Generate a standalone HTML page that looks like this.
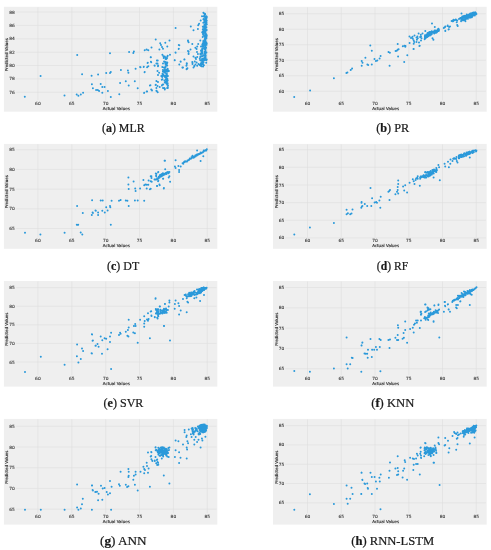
<!DOCTYPE html>
<html><head><meta charset="utf-8"><style>
html,body{margin:0;padding:0;background:#fff;}
body{width:491px;height:550px;overflow:hidden;}
svg{display:block;}
.tk text{font-family:"DejaVu Sans","Liberation Sans",sans-serif;font-size:4.4px;fill:#333;stroke:#333;stroke-width:0.1px;}
.al{font-family:"DejaVu Sans","Liberation Sans",sans-serif;font-size:4px;fill:#333;stroke:#333;stroke-width:0.16px;}
.cap{font-family:"Liberation Serif",serif;font-size:12.7px;fill:#1a1a1a;stroke:#1a1a1a;stroke-width:0.22px;}
</style></head><body>
<svg width="491" height="550" viewBox="0 0 491 550">
<rect width="491" height="550" fill="#fff"/>

<rect x="3.9" y="6.8" width="213.4" height="104.9" fill="#efefef"/>
<path d="M37.9 7.3V100.3M71.8 7.3V100.3M105.7 7.3V100.3M139.5 7.3V100.3M173.4 7.3V100.3M207.3 7.3V100.3M16.2 92.3H216.5M16.2 78.9H216.5M16.2 65.5H216.5M16.2 52.2H216.5M16.2 38.8H216.5M16.2 25.4H216.5M16.2 12.0H216.5" stroke="#dddddd" stroke-width="0.6" fill="none"/>
<g class="tk"><text x="37.9" y="105.3" text-anchor="middle">60</text><text x="71.8" y="105.3" text-anchor="middle">65</text><text x="105.7" y="105.3" text-anchor="middle">70</text><text x="139.5" y="105.3" text-anchor="middle">75</text><text x="173.4" y="105.3" text-anchor="middle">80</text><text x="207.3" y="105.3" text-anchor="middle">85</text><text x="14.8" y="93.8" text-anchor="end">76</text><text x="14.8" y="80.4" text-anchor="end">78</text><text x="14.8" y="67.0" text-anchor="end">80</text><text x="14.8" y="53.7" text-anchor="end">82</text><text x="14.8" y="40.3" text-anchor="end">84</text><text x="14.8" y="26.9" text-anchor="end">86</text><text x="14.8" y="13.5" text-anchor="end">88</text></g>
<text class="al" x="116.3" y="109.7" text-anchor="middle">Actual Values</text>
<text class="al" transform="translate(8.0 54.7) rotate(-90)" text-anchor="middle">Predicted Values</text>
<polygon points="205.0,16.0 206.4,17.5 206.4,58.0 204.6,60.0 204.1,30.0" fill="#2a99da"/>
<path d="M24.8 96.8h0M40.6 75.9h0M64.5 95.5h0M76.7 94.4h0M78.4 95.7h0M80.8 94.4h0M83.1 92.7h0M77.2 54.9h0M82.1 74.3h0M91.6 75.7h0M98.1 74.4h0M106.2 73.1h0M110.0 73.1h0M110.8 72.0h0M120.9 69.9h0M127.9 70.4h0M128.4 72.8h0M135.6 68.7h0M140.1 67.1h0M143.7 67.1h0M144.7 72.0h0M91.9 84.2h0M100.7 83.9h0M102.3 87.1h0M104.6 87.1h0M92.9 88.3h0M96.1 89.9h0M97.8 89.9h0M99.1 91.1h0M102.3 92.7h0M107.9 91.1h0M110.8 96.9h0M119.3 94.3h0M120.1 82.9h0M125.8 81.3h0M128.7 85.5h0M134.8 81.3h0M137.7 88.3h0M144.2 92.7h0M146.7 91.5h0M149.9 85.5h0M151.2 89.4h0M155.6 85.0h0M156.4 90.7h0M110.0 53.3h0M129.1 52.0h0M133.3 52.9h0M133.9 51.6h0M144.7 50.3h0M148.3 50.3h0M150.7 57.3h0M147.8 62.7h0M151.2 62.2h0M157.7 60.6h0M154.5 65.5h0M156.4 63.4h0M158.1 65.5h0M148.3 66.3h0M146.6 49.6h0M151.5 47.6h0M159.4 49.6h0M150.9 57.2h0M162.4 54.7h0M156.9 60.5h0M147.6 62.9h0M150.9 61.8h0M157.5 63.5h0M158.0 66.2h0M154.7 65.7h0M143.8 66.7h0M147.1 67.3h0M140.5 67.3h0M144.6 72.2h0M157.5 71.1h0M159.1 72.8h0M158.0 74.9h0M161.3 76.0h0M162.4 79.3h0M156.4 80.9h0M158.0 82.0h0M150.4 85.3h0M155.8 84.8h0M157.5 85.9h0M159.7 86.9h0M156.4 88.0h0M151.5 89.7h0M152.0 90.4h0M147.1 91.5h0M144.1 93.0h0M156.9 91.3h0M157.7 92.2h0M164.2 88.0h0M167.1 88.0h0M160.2 43.3h0M161.0 45.0h0M162.0 47.0h0M163.0 48.7h0M165.3 42.7h0M169.5 40.5h0M167.3 46.5h0M170.0 54.7h0M175.5 52.6h0M178.8 44.9h0M178.8 48.7h0M174.7 60.2h0M180.7 61.8h0M179.3 64.6h0M184.5 59.4h0M186.9 63.5h0M186.4 65.7h0M182.6 67.8h0M187.0 68.9h0M188.0 50.9h0M188.0 41.1h0M188.6 53.6h0M168.9 71.1h0M202.0 16.3h0M200.7 20.6h0M199.1 23.7h0M198.2 25.3h0M190.8 26.5h0M193.5 30.2h0M197.9 29.0h0M175.6 28.0h0M202.2 32.3h0M188.0 40.4h0M188.6 42.2h0M179.3 45.3h0M178.7 49.0h0M192.3 44.1h0M198.2 44.1h0M197.2 46.6h0M195.4 47.8h0M200.3 40.4h0M201.0 46.6h0M190.5 49.6h0M188.6 51.5h0M196.6 49.0h0M197.0 52.1h0M197.9 54.0h0M175.6 52.7h0M188.6 54.0h0M193.5 56.4h0M195.4 57.7h0M197.2 57.1h0M196.0 58.9h0M184.3 59.5h0M180.6 61.4h0M186.7 63.2h0M186.7 65.1h0M179.3 64.5h0M183.0 67.6h0M186.7 68.8h0M187.4 68.2h0M193.5 67.6h0M194.2 66.1h0M201.6 65.1h0M202.8 63.9h0M174.8 60.3h0M182.4 67.4h0M186.6 69.2h0M192.5 62.7h0M192.5 63.9h0M194.3 66.2h0M192.3 62.0h0M194.8 61.4h0M196.6 62.6h0M198.5 63.9h0M195.4 64.5h0M197.2 65.7h0M199.7 65.1h0M155.7 39.6h0M162.4 84.7h0M166.5 64.3h0M164.7 71.0h0M165.7 82.7h0M166.9 70.4h0M164.4 80.4h0M163.0 88.1h0M167.4 56.6h0M167.6 68.7h0M162.9 70.1h0M164.3 72.6h0M163.0 63.5h0M162.9 71.4h0M163.4 56.2h0M166.9 74.7h0M165.7 61.9h0M168.0 85.2h0M162.3 67.0h0M166.2 80.0h0M167.6 70.1h0M166.9 78.6h0M163.5 75.8h0M167.2 84.7h0M164.8 75.8h0M166.7 69.8h0M162.6 74.4h0M166.1 78.8h0M163.9 70.6h0M164.8 82.4h0M164.9 69.1h0M164.7 56.5h0M161.8 79.8h0M167.9 76.0h0M164.1 61.4h0M164.8 89.4h0M166.5 74.1h0M167.1 63.5h0M164.8 88.4h0M165.3 71.3h0M163.3 74.4h0M167.7 55.7h0M166.6 83.8h0M167.3 81.0h0M166.8 73.4h0M165.1 70.2h0M161.9 85.5h0M165.2 62.4h0M164.8 72.2h0M163.8 67.4h0M165.0 77.0h0M165.5 71.3h0M162.7 75.7h0M167.1 83.0h0M166.7 83.7h0M163.2 84.5h0M165.9 58.4h0M166.4 64.1h0M162.2 77.1h0M163.7 57.9h0M162.5 73.7h0M166.4 74.4h0M167.6 71.4h0M166.6 75.2h0M165.8 72.9h0M166.9 81.6h0M165.5 66.4h0M165.5 82.1h0M167.0 58.3h0M167.8 86.9h0M166.9 76.1h0M165.7 57.5h0M166.6 58.8h0M165.8 64.5h0M165.4 71.4h0M166.4 83.1h0M166.6 76.8h0M166.5 77.5h0M166.4 65.6h0M167.8 87.9h0M167.4 78.9h0M166.1 64.1h0M166.0 59.2h0M167.2 69.4h0M167.4 69.0h0M167.7 83.3h0M165.3 63.5h0M167.6 71.6h0M167.8 69.3h0M165.5 76.5h0M167.2 65.4h0M165.5 67.3h0M167.7 80.5h0M165.6 64.6h0M165.6 58.9h0M167.3 62.5h0M166.7 70.9h0M165.8 79.7h0M165.6 77.0h0M206.7 43.3h0M206.1 36.3h0M205.4 22.2h0M205.1 32.0h0M205.0 17.2h0M204.3 25.0h0M205.6 44.8h0M206.7 30.0h0M204.3 20.9h0M204.4 22.5h0M204.0 41.4h0M204.7 30.5h0M203.4 12.8h0M203.8 16.5h0M204.6 45.0h0M205.4 18.0h0M206.4 38.3h0M205.7 41.9h0M205.8 38.1h0M203.9 44.4h0M206.7 17.3h0M205.8 35.6h0M204.4 29.5h0M204.6 42.5h0M204.6 39.4h0M203.9 41.1h0M206.4 27.2h0M204.9 42.4h0M205.6 28.1h0M203.3 22.7h0M205.5 17.5h0M206.5 20.8h0M206.5 22.2h0M206.7 35.3h0M204.6 29.1h0M205.3 31.4h0M203.7 18.9h0M204.7 42.8h0M205.2 14.5h0M206.1 36.0h0M206.5 18.3h0M205.3 21.0h0M203.3 40.9h0M202.8 29.2h0M206.2 20.1h0M203.3 41.1h0M204.2 35.7h0M203.1 34.2h0M202.7 43.5h0M206.0 17.2h0M203.1 34.8h0M204.1 13.4h0M206.9 17.0h0M205.1 36.5h0M205.8 36.4h0M206.4 36.9h0M206.3 35.3h0M204.5 19.4h0M205.3 22.4h0M202.8 26.8h0M206.3 16.2h0M205.0 25.0h0M204.7 16.7h0M206.7 20.6h0M205.1 25.9h0M202.7 33.0h0M204.6 44.5h0M206.6 44.8h0M203.4 26.7h0M203.5 31.5h0M205.2 38.4h0M205.6 20.5h0M204.2 29.4h0M204.2 15.7h0M205.6 19.9h0M203.4 19.2h0M204.7 27.3h0M203.7 33.2h0M203.3 41.9h0M206.7 36.1h0M204.3 28.9h0M205.0 13.7h0M204.2 29.3h0M206.0 24.1h0M204.7 42.4h0M205.1 21.6h0M206.8 24.3h0M206.2 34.2h0M204.2 28.0h0M203.3 31.4h0M204.0 42.9h0M202.7 36.9h0M203.2 30.9h0M204.1 27.3h0M205.8 25.0h0M203.0 59.5h0M204.4 47.4h0M201.5 63.0h0M204.6 58.1h0M203.6 59.5h0M200.6 54.3h0M200.7 65.3h0M200.1 60.1h0M202.0 53.5h0M205.7 44.4h0M203.3 46.1h0M200.3 53.9h0M204.1 47.8h0M204.7 45.2h0M200.8 63.2h0M202.5 53.8h0M203.9 55.2h0M202.3 44.7h0M206.7 59.6h0M202.1 52.5h0M204.6 59.8h0M202.2 56.0h0M205.5 55.8h0M202.7 56.2h0M201.1 54.0h0M202.4 62.1h0M200.3 56.9h0M200.8 60.4h0M202.0 59.0h0M201.0 50.6h0M203.1 66.5h0M200.7 65.7h0M202.2 48.4h0M205.2 52.0h0M199.8 58.5h0M203.2 44.6h0M201.9 62.5h0M205.7 59.0h0M201.2 56.4h0M203.0 58.7h0M201.4 66.2h0M206.1 47.8h0M201.7 64.5h0M201.6 66.2h0M203.3 60.4h0M204.7 49.0h0M201.6 50.0h0M204.6 60.3h0M200.5 64.8h0M202.6 49.7h0M203.6 58.7h0M205.1 53.8h0M203.9 65.2h0M205.3 57.6h0M202.1 52.7h0M204.9 57.2h0M206.2 62.7h0M203.5 62.5h0M202.3 46.3h0M202.1 51.3h0M206.4 60.2h0M203.5 58.6h0M200.4 56.6h0M204.7 53.3h0M201.3 53.6h0M201.9 60.1h0M201.8 60.4h0M205.1 59.5h0M206.4 52.6h0M202.8 48.2h0M204.4 52.0h0M201.3 51.7h0M206.5 44.2h0M202.2 50.6h0M201.0 54.2h0" stroke="#2a99da" stroke-width="2.0" stroke-linecap="round" fill="none"/>
<text class="cap" x="102.0" y="131.8" textLength="42.6" lengthAdjust="spacingAndGlyphs">(<tspan font-weight="bold">a</tspan>) MLR</text>
<rect x="273.0" y="6.8" width="213.7" height="104.9" fill="#efefef"/>
<path d="M307.5 7.3V100.3M341.2 7.3V100.3M375.0 7.3V100.3M408.8 7.3V100.3M442.5 7.3V100.3M476.2 7.3V100.3M285.3 91.2H485.9M285.3 75.7H485.9M285.3 60.2H485.9M285.3 44.7H485.9M285.3 29.2H485.9M285.3 13.7H485.9" stroke="#dddddd" stroke-width="0.6" fill="none"/>
<g class="tk"><text x="307.5" y="105.3" text-anchor="middle">60</text><text x="341.2" y="105.3" text-anchor="middle">65</text><text x="375.0" y="105.3" text-anchor="middle">70</text><text x="408.8" y="105.3" text-anchor="middle">75</text><text x="442.5" y="105.3" text-anchor="middle">80</text><text x="476.2" y="105.3" text-anchor="middle">85</text><text x="284.3" y="92.7" text-anchor="end">60</text><text x="284.3" y="77.2" text-anchor="end">65</text><text x="284.3" y="61.7" text-anchor="end">70</text><text x="284.3" y="46.2" text-anchor="end">75</text><text x="284.3" y="30.7" text-anchor="end">80</text><text x="284.3" y="15.2" text-anchor="end">85</text></g>
<text class="al" x="385.6" y="109.7" text-anchor="middle">Actual Values</text>
<text class="al" transform="translate(277.8 54.7) rotate(-90)" text-anchor="middle">Predicted Values</text>
<polygon points="467.0,15.6 474.0,13.0 475.6,13.2 475.2,14.6 471.0,16.4 467.0,17.8" fill="#2a99da"/>
<path d="M294.2 96.9h0M310.1 90.6h0M333.9 78.3h0M346.4 73.1h0M347.4 72.5h0M350.7 70.0h0M352.1 68.5h0M361.7 65.7h0M361.7 61.1h0M362.5 62.8h0M365.4 57.8h0M367.4 64.5h0M368.2 65.1h0M370.3 45.4h0M371.8 50.8h0M371.8 64.5h0M374.5 59.0h0M375.9 61.1h0M377.3 60.4h0M379.6 58.5h0M380.6 56.0h0M388.5 52.1h0M389.9 52.8h0M389.6 65.7h0M395.6 51.1h0M397.7 49.7h0M397.7 44.0h0M398.1 56.4h0M396.7 50.8h0M398.6 49.3h0M402.8 46.3h0M404.5 45.8h0M405.3 46.7h0M404.2 62.0h0M407.3 55.3h0M409.6 43.0h0M405.5 46.1h0M413.5 48.9h0M419.4 46.0h0M413.7 48.9h0M419.7 45.7h0M409.6 42.9h0M412.8 38.8h0M413.7 40.6h0M414.2 42.0h0M413.7 43.8h0M416.5 37.4h0M417.4 36.5h0M417.8 38.3h0M416.9 39.7h0M416.5 42.0h0M420.1 37.0h0M421.0 36.5h0M421.5 38.3h0M432.0 23.5h0M434.8 27.1h0M438.5 28.7h0M439.1 30.1h0M425.3 31.0h0M424.7 39.2h0M425.6 37.9h0M432.5 38.3h0M433.4 39.7h0M444.9 27.3h0M445.3 31.0h0M447.6 26.0h0M448.8 29.2h0M444.3 27.5h0M445.3 26.5h0M443.8 28.0h0M447.7 25.6h0M449.1 27.0h0M450.0 26.5h0M445.3 30.8h0M448.6 29.4h0M452.4 21.3h0M454.4 20.3h0M455.8 19.4h0M456.7 22.2h0M457.2 25.1h0M457.7 26.1h0M461.5 13.6h0M465.4 21.3h0M466.8 14.6h0M409.5 36.5h0M411.0 38.0h0M412.5 36.8h0M414.5 35.5h0M418.6 33.6h0M420.8 34.8h0M422.5 33.5h0M421.0 40.5h0M419.0 42.5h0M428.3 34.4h0M430.3 35.0h0M424.9 37.5h0M438.0 29.7h0M434.2 31.9h0M432.4 32.8h0M430.0 34.8h0M434.8 30.4h0M435.5 30.9h0M426.0 37.1h0M437.9 29.2h0M435.5 32.2h0M427.7 33.0h0M425.3 37.8h0M431.7 34.2h0M431.0 34.8h0M425.0 35.2h0M434.2 33.6h0M435.0 32.4h0M428.5 33.5h0M433.6 32.1h0M430.2 32.0h0M430.3 35.0h0M429.2 32.7h0M436.8 31.2h0M427.5 33.3h0M429.6 32.2h0M437.6 30.5h0M429.8 35.5h0M436.9 32.3h0M436.7 31.5h0M429.9 33.1h0M431.0 33.0h0M438.6 30.3h0M424.8 38.6h0M438.7 31.0h0M429.1 32.3h0M433.6 31.7h0M424.9 36.5h0M433.9 32.3h0M427.3 37.0h0M428.8 34.2h0M431.1 33.7h0M429.5 32.0h0M430.0 35.5h0M433.6 32.5h0M426.6 34.5h0M435.5 32.7h0M430.3 35.0h0M431.2 32.6h0M431.7 31.3h0M428.7 33.6h0M426.6 37.2h0M426.3 34.9h0M438.0 30.6h0M425.1 37.5h0M426.5 37.6h0M428.5 35.2h0M436.1 32.8h0M430.2 32.9h0M430.0 33.1h0M436.0 30.4h0M438.3 30.3h0M426.1 36.6h0M427.7 34.8h0M433.5 31.5h0M431.9 32.7h0M428.2 36.2h0M437.6 31.2h0M427.5 36.1h0M429.4 33.1h0M426.1 37.5h0M429.1 32.4h0M431.3 33.8h0M427.9 34.8h0M472.6 14.2h0M468.8 14.7h0M473.1 14.0h0M465.2 17.9h0M474.4 13.0h0M469.0 14.9h0M468.4 16.0h0M469.9 16.1h0M473.3 12.6h0M460.9 17.9h0M464.7 17.1h0M467.8 15.3h0M476.4 14.0h0M470.4 14.7h0M465.9 19.0h0M465.3 17.3h0M474.8 13.1h0M463.0 16.4h0M460.8 18.5h0M472.9 15.5h0M471.1 13.6h0M462.1 17.0h0M472.7 15.9h0M464.0 15.9h0M463.9 20.1h0M463.5 20.2h0M465.6 18.2h0M475.7 12.9h0M474.8 13.4h0M470.5 17.4h0M475.1 12.3h0M474.4 13.3h0M474.4 14.0h0M471.0 15.2h0M467.8 17.0h0M469.8 16.6h0M473.6 13.0h0M469.0 15.7h0M472.9 15.0h0M463.9 16.6h0M475.9 13.1h0M462.0 17.9h0M472.8 12.8h0M474.5 14.0h0M465.0 19.8h0M462.8 20.2h0M468.2 15.3h0M465.2 17.2h0M468.0 18.7h0M464.1 19.9h0M465.9 19.2h0M472.7 15.5h0M470.9 13.4h0M473.3 13.8h0M474.8 15.6h0M469.5 15.4h0M463.0 18.2h0M475.6 13.6h0M469.6 16.7h0M462.0 18.1h0M466.7 17.7h0M465.4 17.9h0M466.6 15.8h0M473.4 14.8h0M463.1 17.1h0M470.3 13.6h0M461.2 21.1h0M469.9 15.0h0M462.8 19.4h0M471.2 17.2h0M475.7 14.6h0M461.1 21.2h0M471.9 17.2h0M474.4 14.5h0M466.5 18.4h0M474.1 15.2h0M466.4 16.1h0M463.9 17.2h0M467.9 18.7h0M463.1 19.7h0M461.8 17.8h0M475.0 15.0h0M470.4 14.5h0M470.3 15.3h0M470.0 17.0h0M461.4 18.7h0M468.2 17.2h0M469.8 14.5h0M471.5 13.3h0M465.0 15.7h0M465.0 18.5h0M475.3 14.7h0M472.4 15.9h0M465.3 17.8h0M464.3 16.9h0M462.3 19.1h0M465.7 16.3h0M476.2 13.7h0M464.1 19.9h0M464.9 17.4h0M461.3 19.9h0M463.0 18.7h0M470.0 15.5h0M476.2 13.8h0M462.3 16.6h0M469.0 17.1h0M466.0 19.0h0M469.5 14.0h0M470.3 15.3h0M466.0 18.6h0M475.5 13.9h0M463.2 19.7h0M465.1 18.7h0M466.2 16.4h0M465.9 16.3h0M464.9 17.3h0M463.1 17.8h0M469.9 17.7h0M467.2 15.1h0M470.4 13.7h0M451.6 20.9h0M453.4 19.8h0M453.1 21.3h0M456.1 20.0h0M457.2 20.4h0M459.0 19.0h0M460.3 18.0h0" stroke="#2a99da" stroke-width="2.0" stroke-linecap="round" fill="none"/>
<text class="cap" x="376.2" y="131.8" textLength="33.0" lengthAdjust="spacingAndGlyphs">(<tspan font-weight="bold">b</tspan>) PR</text>
<rect x="3.9" y="143.9" width="213.4" height="104.9" fill="#efefef"/>
<path d="M37.9 144.4V237.4M71.8 144.4V237.4M105.7 144.4V237.4M139.5 144.4V237.4M173.4 144.4V237.4M207.3 144.4V237.4M16.2 228.5H216.5M16.2 208.8H216.5M16.2 189.1H216.5M16.2 169.4H216.5M16.2 149.7H216.5" stroke="#dddddd" stroke-width="0.6" fill="none"/>
<g class="tk"><text x="37.9" y="242.4" text-anchor="middle">60</text><text x="71.8" y="242.4" text-anchor="middle">65</text><text x="105.7" y="242.4" text-anchor="middle">70</text><text x="139.5" y="242.4" text-anchor="middle">75</text><text x="173.4" y="242.4" text-anchor="middle">80</text><text x="207.3" y="242.4" text-anchor="middle">85</text><text x="14.8" y="230.0" text-anchor="end">65</text><text x="14.8" y="210.3" text-anchor="end">70</text><text x="14.8" y="190.6" text-anchor="end">75</text><text x="14.8" y="170.9" text-anchor="end">80</text><text x="14.8" y="151.2" text-anchor="end">85</text></g>
<text class="al" x="116.3" y="246.8" text-anchor="middle">Actual Values</text>
<text class="al" transform="translate(8.0 191.8) rotate(-90)" text-anchor="middle">Predicted Values</text>
<path d="M25.0 232.8h0M40.4 234.4h0M64.6 232.8h0M77.1 206.1h0M76.8 224.7h0M78.2 224.7h0M80.7 232.5h0M82.3 234.4h0M82.8 212.9h0M92.1 200.2h0M92.6 212.6h0M91.8 214.9h0M95.5 210.5h0M100.7 200.4h0M102.7 200.4h0M111.6 200.7h0M119.0 200.7h0M120.6 199.9h0M125.8 200.4h0M127.4 200.7h0M134.9 200.4h0M137.7 200.4h0M144.2 200.7h0M128.7 206.1h0M92.9 213.0h0M95.8 210.8h0M98.1 212.5h0M98.1 214.9h0M102.3 210.8h0M104.8 212.5h0M107.6 210.5h0M106.2 207.3h0M110.0 206.1h0M110.3 207.3h0M110.8 224.8h0M128.4 177.6h0M128.4 184.4h0M128.7 189.0h0M133.6 181.5h0M135.2 188.5h0M135.6 191.0h0M140.1 188.5h0M143.4 179.9h0M144.2 185.3h0M145.4 184.4h0M146.7 184.8h0M148.3 184.8h0M146.7 188.5h0M149.9 189.3h0M148.6 180.4h0M150.7 181.2h0M151.5 177.9h0M150.7 176.3h0M156.4 173.8h0M158.1 172.2h0M156.1 175.5h0M158.1 181.2h0M159.7 185.3h0M157.2 186.1h0M163.8 188.5h0M164.6 160.8h0M163.0 178.7h0M155.8 173.5h0M158.3 172.1h0M156.2 176.2h0M165.0 160.7h0M165.2 169.3h0M169.4 172.1h0M169.4 176.2h0M170.1 181.8h0M168.7 177.6h0M151.4 176.2h0M151.7 181.8h0M150.7 188.7h0M156.9 185.9h0M159.4 184.6h0M163.9 188.0h0M163.2 178.7h0M158.3 180.4h0M175.6 160.3h0M174.9 166.5h0M175.6 167.9h0M178.4 165.9h0M179.1 170.0h0M179.1 172.1h0M180.7 166.5h0M197.1 150.6h0M203.3 156.2h0M200.6 161.0h0M191.6 158.2h0M192.5 155.8h0M194.0 156.8h0M195.5 155.2h0M197.0 154.5h0M160.7 174.7h0M165.0 173.8h0M161.2 175.1h0M166.4 172.8h0M160.6 175.2h0M160.3 175.7h0M163.3 174.1h0M162.3 173.8h0M167.1 172.8h0M166.3 172.7h0M166.7 172.6h0M162.9 173.3h0M163.3 173.4h0M163.7 173.9h0M161.2 174.4h0M164.3 174.4h0M162.4 174.3h0M159.8 175.2h0M166.3 173.4h0M167.2 172.5h0M159.8 175.2h0M166.2 173.8h0M166.0 173.8h0M163.1 174.2h0M166.9 173.1h0M155.0 179.6h0M154.5 179.6h0M155.8 179.6h0M156.3 179.5h0M157.1 179.1h0M157.2 178.2h0M158.6 178.2h0M158.8 176.8h0M159.6 177.6h0M159.9 176.4h0M161.1 176.6h0M161.5 175.5h0M162.4 175.8h0M162.9 174.9h0M163.5 175.0h0M163.8 174.0h0M164.7 174.4h0M165.6 173.1h0M166.5 173.9h0M167.2 172.5h0M167.9 172.1h0M168.6 173.3h0M182.6 163.3h0M183.3 163.7h0M183.4 162.8h0M184.2 161.8h0M185.2 161.2h0M184.6 161.9h0M185.9 161.6h0M187.1 161.5h0M187.4 161.1h0M187.5 160.4h0M188.7 159.9h0M189.2 159.8h0M189.7 158.6h0M190.5 158.7h0M190.9 158.6h0M191.4 158.6h0M191.6 157.0h0M191.6 157.8h0M193.1 157.3h0M193.7 157.7h0M194.1 157.2h0M194.4 156.6h0M195.5 156.6h0M196.2 155.5h0M196.9 155.6h0M196.8 155.3h0M198.0 154.7h0M198.3 154.1h0M198.9 154.2h0M199.5 154.1h0M200.5 152.6h0M200.6 153.6h0M201.3 152.9h0M202.2 152.6h0M202.6 152.5h0M203.4 151.7h0M203.7 150.5h0M204.6 150.7h0M205.0 150.7h0M206.3 150.4h0M206.2 149.7h0M206.8 149.3h0" stroke="#2a99da" stroke-width="2.0" stroke-linecap="round" fill="none"/>
<text class="cap" x="107.1" y="269.6" textLength="32.1" lengthAdjust="spacingAndGlyphs">(<tspan font-weight="bold">c</tspan>) DT</text>
<rect x="273.0" y="143.9" width="213.7" height="104.9" fill="#efefef"/>
<path d="M307.5 144.4V237.4M341.2 144.4V237.4M375.0 144.4V237.4M408.8 144.4V237.4M442.5 144.4V237.4M476.2 144.4V237.4M285.3 237.9H485.9M285.3 220.2H485.9M285.3 202.6H485.9M285.3 185.0H485.9M285.3 167.3H485.9M285.3 149.7H485.9" stroke="#dddddd" stroke-width="0.6" fill="none"/>
<g class="tk"><text x="307.5" y="242.4" text-anchor="middle">60</text><text x="341.2" y="242.4" text-anchor="middle">65</text><text x="375.0" y="242.4" text-anchor="middle">70</text><text x="408.8" y="242.4" text-anchor="middle">75</text><text x="442.5" y="242.4" text-anchor="middle">80</text><text x="476.2" y="242.4" text-anchor="middle">85</text><text x="284.3" y="239.4" text-anchor="end">60</text><text x="284.3" y="221.8" text-anchor="end">65</text><text x="284.3" y="204.1" text-anchor="end">70</text><text x="284.3" y="186.5" text-anchor="end">75</text><text x="284.3" y="168.8" text-anchor="end">80</text><text x="284.3" y="151.2" text-anchor="end">85</text></g>
<text class="al" x="385.6" y="246.8" text-anchor="middle">Actual Values</text>
<text class="al" transform="translate(277.8 191.8) rotate(-90)" text-anchor="middle">Predicted Values</text>
<path d="M294.3 234.4h0M309.9 227.4h0M333.9 223.0h0M346.6 209.8h0M346.6 214.3h0M347.9 213.2h0M350.2 214.3h0M351.5 213.5h0M352.5 209.4h0M361.6 202.1h0M362.4 205.9h0M361.3 207.8h0M361.5 202.7h0M361.8 206.4h0M364.8 204.0h0M367.2 206.0h0M371.3 206.0h0M370.5 188.0h0M372.1 198.3h0M374.6 202.4h0M376.2 202.0h0M377.0 202.7h0M379.4 200.4h0M380.7 196.7h0M380.3 207.7h0M388.4 191.8h0M389.2 191.0h0M390.0 190.1h0M389.5 199.9h0M395.4 194.2h0M397.0 191.8h0M397.7 190.1h0M397.7 186.9h0M398.2 184.1h0M398.2 180.4h0M398.2 193.4h0M403.1 186.4h0M405.2 185.3h0M404.2 190.6h0M407.1 192.6h0M409.6 182.8h0M412.8 179.2h0M413.7 181.2h0M414.5 184.1h0M415.6 179.9h0M417.7 178.7h0M417.7 176.3h0M419.8 185.7h0M421.0 176.3h0M423.4 175.5h0M425.1 172.2h0M425.2 172.0h0M433.6 177.4h0M439.8 180.2h0M438.4 165.1h0M439.1 167.2h0M444.6 163.8h0M445.2 166.5h0M448.0 161.7h0M448.9 167.2h0M450.3 163.8h0M452.5 161.0h0M454.1 158.3h0M456.2 159.0h0M456.8 161.0h0M457.5 162.4h0M458.9 157.0h0M469.8 157.6h0M428.0 175.0h0M425.1 175.8h0M423.6 175.6h0M430.5 172.4h0M431.4 173.5h0M424.9 176.3h0M434.0 169.6h0M432.4 169.9h0M432.1 173.5h0M424.4 177.6h0M428.9 176.2h0M427.0 175.3h0M431.9 174.5h0M423.5 175.5h0M434.7 170.3h0M423.2 177.0h0M435.6 170.8h0M433.4 173.3h0M436.3 171.9h0M430.3 175.4h0M429.2 175.4h0M423.2 176.1h0M424.0 176.9h0M433.7 173.5h0M425.3 176.1h0M436.9 170.3h0M424.6 176.5h0M427.5 171.9h0M435.6 171.7h0M427.2 175.2h0M427.6 176.0h0M432.1 172.8h0M426.3 172.7h0M427.8 175.8h0M426.3 177.5h0M431.3 171.9h0M434.8 170.1h0M430.6 171.0h0M433.0 173.2h0M436.3 170.9h0M427.9 174.9h0M428.3 176.6h0M425.3 175.3h0M433.2 171.1h0M428.3 173.4h0M428.8 172.8h0M429.5 175.0h0M433.9 171.2h0M436.3 168.1h0M429.0 171.9h0M436.5 168.9h0M432.9 171.3h0M425.6 177.5h0M424.0 175.8h0M422.9 176.1h0M472.4 150.7h0M458.9 156.2h0M476.0 151.4h0M476.4 150.6h0M461.7 156.9h0M469.3 151.7h0M458.8 158.2h0M468.2 154.2h0M471.8 151.4h0M459.2 158.2h0M472.8 152.4h0M462.5 156.6h0M469.3 153.9h0M476.2 151.2h0M458.8 157.5h0M472.6 153.0h0M458.8 157.1h0M463.3 154.5h0M464.5 156.0h0M465.5 153.9h0M473.4 152.0h0M461.5 154.7h0M467.3 154.4h0M468.2 154.0h0M468.6 152.1h0M460.0 155.1h0M473.9 152.1h0M469.9 152.7h0M466.2 155.7h0M461.8 155.2h0M475.7 150.3h0M466.8 154.5h0M470.2 153.6h0M460.8 157.1h0M471.9 152.0h0M460.9 156.3h0M461.2 154.6h0M470.8 152.8h0M472.4 150.7h0M472.0 151.7h0M466.4 154.2h0M459.9 155.6h0M458.8 155.6h0M470.2 152.9h0M466.5 152.6h0M462.3 155.9h0M472.9 151.6h0M461.4 156.6h0M458.9 157.8h0M460.3 155.0h0M474.0 150.4h0M460.5 155.3h0M472.7 153.1h0M468.4 153.4h0M467.4 154.5h0M472.9 151.8h0M464.3 153.2h0M464.0 153.7h0M465.7 154.4h0M469.8 151.8h0M463.6 156.5h0M462.6 156.2h0M472.1 152.2h0M461.8 156.9h0M468.0 152.3h0M465.6 154.0h0M469.7 152.1h0M463.9 154.2h0M467.8 154.6h0M463.3 155.4h0M416.1 178.5h0M417.3 177.7h0M420.1 178.8h0M420.1 177.3h0M421.6 177.2h0M423.9 176.4h0M425.7 175.5h0M426.4 175.0h0M428.2 173.2h0M430.1 174.0h0M431.1 173.9h0M433.1 171.9h0M433.8 171.2h0M435.4 170.9h0M436.7 169.8h0M450.5 159.4h0M453.2 158.8h0M454.4 158.8h0M454.9 158.4h0M456.5 157.0h0M458.8 157.1h0" stroke="#2a99da" stroke-width="2.0" stroke-linecap="round" fill="none"/>
<text class="cap" x="376.8" y="269.6" textLength="31.3" lengthAdjust="spacingAndGlyphs">(<tspan font-weight="bold">d</tspan>) RF</text>
<rect x="3.9" y="281.0" width="213.4" height="105.6" fill="#efefef"/>
<path d="M37.9 281.5V375.2M71.8 281.5V375.2M105.7 281.5V375.2M139.5 281.5V375.2M173.4 281.5V375.2M207.3 281.5V375.2M16.2 362.0H216.5M16.2 343.4H216.5M16.2 324.8H216.5M16.2 306.2H216.5M16.2 287.6H216.5" stroke="#dddddd" stroke-width="0.6" fill="none"/>
<g class="tk"><text x="37.9" y="380.2" text-anchor="middle">60</text><text x="71.8" y="380.2" text-anchor="middle">65</text><text x="105.7" y="380.2" text-anchor="middle">70</text><text x="139.5" y="380.2" text-anchor="middle">75</text><text x="173.4" y="380.2" text-anchor="middle">80</text><text x="207.3" y="380.2" text-anchor="middle">85</text><text x="14.8" y="363.5" text-anchor="end">65</text><text x="14.8" y="344.9" text-anchor="end">70</text><text x="14.8" y="326.3" text-anchor="end">75</text><text x="14.8" y="307.7" text-anchor="end">80</text><text x="14.8" y="289.1" text-anchor="end">85</text></g>
<text class="al" x="116.3" y="384.6" text-anchor="middle">Actual Values</text>
<text class="al" transform="translate(8.0 329.2) rotate(-90)" text-anchor="middle">Predicted Values</text>
<polygon points="196.5,292.0 206.3,287.4 206.6,288.6 200.0,291.8 197.0,293.2" fill="#2a99da"/>
<path d="M25.0 372.1h0M40.8 356.7h0M64.6 364.8h0M77.1 344.4h0M76.9 356.2h0M78.4 362.4h0M80.8 359.1h0M82.0 348.5h0M83.1 351.0h0M91.9 334.3h0M92.6 340.7h0M95.5 345.7h0M91.9 353.4h0M92.1 334.4h0M92.9 340.6h0M91.6 353.3h0M95.8 345.8h0M97.5 343.9h0M98.6 346.8h0M100.7 336.5h0M102.3 340.3h0M104.6 338.2h0M106.2 338.7h0M102.0 353.7h0M107.6 349.3h0M110.0 336.5h0M110.0 341.9h0M111.1 332.8h0M119.0 334.9h0M120.1 332.8h0M120.6 333.8h0M125.8 331.7h0M127.9 330.0h0M128.7 327.6h0M127.4 335.7h0M128.4 336.5h0M128.7 319.8h0M133.9 326.0h0M135.2 324.0h0M135.6 326.0h0M133.3 332.5h0M134.9 333.3h0M137.7 342.7h0M140.1 319.8h0M144.2 316.2h0M144.7 321.1h0M144.2 323.5h0M144.2 326.8h0M147.0 319.4h0M148.0 320.7h0M148.6 319.1h0M148.0 313.2h0M151.2 311.3h0M151.5 315.9h0M149.9 338.2h0M154.8 317.0h0M157.2 317.8h0M158.1 315.4h0M155.6 298.3h0M159.7 306.4h0M164.9 304.0h0M164.1 326.0h0M150.7 311.5h0M151.4 315.6h0M154.8 317.3h0M157.6 318.4h0M158.3 316.3h0M155.5 298.7h0M160.0 306.6h0M165.0 303.9h0M169.4 300.4h0M169.4 302.5h0M168.7 306.6h0M163.9 326.0h0M175.6 300.4h0M174.9 303.9h0M174.7 308.7h0M178.4 303.2h0M179.1 305.9h0M180.7 310.4h0M179.1 314.5h0M186.7 312.2h0M183.0 299.0h0M184.6 294.9h0M186.7 296.2h0M188.1 294.2h0M186.7 298.3h0M187.4 301.8h0M188.1 302.5h0M194.3 298.3h0M196.4 297.6h0M200.1 301.1h0M204.0 294.9h0M170.0 340.5h0M111.1 368.9h0M204.5 287.7h0M199.0 292.4h0M189.2 292.8h0M192.8 292.4h0M198.7 290.5h0M199.0 293.0h0M188.1 294.2h0M196.9 293.8h0M204.2 290.0h0M199.1 290.8h0M197.0 289.5h0M202.3 291.1h0M199.7 292.3h0M190.3 293.3h0M204.2 289.5h0M191.0 293.3h0M185.8 294.6h0M201.7 288.1h0M195.0 292.4h0M190.2 295.7h0M196.5 294.2h0M194.2 292.1h0M191.9 292.8h0M189.4 296.0h0M203.8 287.5h0M189.6 293.6h0M195.0 294.8h0M202.6 288.7h0M193.9 291.6h0M206.6 287.8h0M203.8 289.3h0M189.9 296.2h0M203.6 288.5h0M190.2 294.8h0M194.6 291.1h0M196.9 294.1h0M196.6 294.4h0M187.8 296.6h0M197.8 293.7h0M204.5 289.3h0M197.8 293.1h0M193.8 292.8h0M188.9 294.1h0M199.5 289.9h0M191.4 294.5h0M202.8 289.9h0M190.4 293.0h0M200.6 288.9h0M198.7 289.5h0M203.5 287.7h0M198.7 289.5h0M201.1 292.4h0M185.9 295.8h0M191.2 296.0h0M204.7 288.9h0M193.5 293.1h0M187.7 296.3h0M202.7 289.5h0M202.2 287.9h0M189.3 295.1h0M202.3 289.1h0M191.7 295.6h0M198.8 290.9h0M205.6 288.0h0M206.3 288.6h0M200.8 290.0h0M198.0 292.0h0M193.0 292.7h0M190.0 294.0h0M196.5 294.1h0M199.3 290.2h0M191.4 295.4h0M200.6 289.9h0M191.1 292.4h0M194.0 292.7h0M199.1 291.5h0M202.3 288.5h0M198.6 290.2h0M199.5 289.1h0M203.6 287.5h0M193.6 293.2h0M188.6 293.9h0M189.9 295.5h0M194.6 295.0h0M200.6 291.9h0M189.8 293.3h0M198.5 289.6h0M189.5 293.9h0M193.5 292.3h0M197.5 293.9h0M192.2 294.5h0M193.8 294.4h0M196.7 293.0h0M191.9 293.7h0M193.2 292.6h0M201.6 290.7h0M205.9 288.8h0M201.3 288.0h0M191.3 293.7h0M199.9 293.2h0M160.4 309.7h0M157.6 313.8h0M162.9 312.4h0M162.6 310.6h0M164.9 311.8h0M165.5 312.3h0M166.2 310.9h0M157.5 309.2h0M164.8 309.3h0M163.9 312.0h0M156.3 313.0h0M155.9 313.5h0M166.3 309.6h0M164.8 312.7h0M157.1 312.3h0M157.1 313.8h0M156.2 310.2h0M163.4 311.9h0M157.8 313.6h0M166.3 310.1h0M157.4 312.3h0M160.7 312.3h0M161.8 310.7h0M155.8 309.1h0M161.4 312.7h0M160.9 312.8h0M162.4 313.6h0M163.9 310.2h0M156.0 313.5h0M166.7 312.8h0M156.9 312.3h0M157.1 313.6h0M163.9 312.8h0M163.3 310.8h0M158.6 310.9h0M164.9 312.4h0M160.8 311.0h0M167.9 310.0h0M158.2 312.4h0M159.0 313.7h0M159.7 313.8h0M160.4 313.6h0M165.1 312.7h0M158.2 309.3h0M155.9 309.4h0M164.0 308.7h0M158.5 311.7h0M157.5 310.3h0M158.4 312.4h0M163.2 312.6h0M162.6 311.3h0M166.0 308.5h0M163.7 311.4h0M163.8 309.4h0M164.8 313.0h0" stroke="#2a99da" stroke-width="2.0" stroke-linecap="round" fill="none"/>
<text class="cap" x="103.6" y="407.1" textLength="39.8" lengthAdjust="spacingAndGlyphs">(<tspan font-weight="bold">e</tspan>) SVR</text>
<rect x="273.0" y="281.0" width="213.7" height="105.6" fill="#efefef"/>
<path d="M307.5 281.5V375.2M341.2 281.5V375.2M375.0 281.5V375.2M408.8 281.5V375.2M442.5 281.5V375.2M476.2 281.5V375.2M285.3 368.7H485.9M285.3 348.4H485.9M285.3 328.1H485.9M285.3 307.8H485.9M285.3 287.5H485.9" stroke="#dddddd" stroke-width="0.6" fill="none"/>
<g class="tk"><text x="307.5" y="380.2" text-anchor="middle">60</text><text x="341.2" y="380.2" text-anchor="middle">65</text><text x="375.0" y="380.2" text-anchor="middle">70</text><text x="408.8" y="380.2" text-anchor="middle">75</text><text x="442.5" y="380.2" text-anchor="middle">80</text><text x="476.2" y="380.2" text-anchor="middle">85</text><text x="284.3" y="370.2" text-anchor="end">65</text><text x="284.3" y="349.9" text-anchor="end">70</text><text x="284.3" y="329.6" text-anchor="end">75</text><text x="284.3" y="309.3" text-anchor="end">80</text><text x="284.3" y="289.0" text-anchor="end">85</text></g>
<text class="al" x="385.6" y="384.6" text-anchor="middle">Actual Values</text>
<text class="al" transform="translate(277.8 329.2) rotate(-90)" text-anchor="middle">Predicted Values</text>
<path d="M294.3 371.0h0M309.9 371.8h0M333.9 368.6h0M346.6 337.4h0M346.6 364.3h0M350.2 364.3h0M347.7 368.6h0M351.8 357.8h0M352.6 358.1h0M361.6 345.6h0M362.4 342.5h0M361.3 371.8h0M364.5 353.4h0M362.3 342.7h0M361.5 345.6h0M368.0 349.7h0M365.6 353.8h0M367.2 353.8h0M367.7 357.8h0M371.8 357.0h0M370.5 339.1h0M372.1 349.7h0M374.2 349.7h0M377.0 349.7h0M375.9 346.9h0M379.4 339.1h0M380.7 339.9h0M379.8 346.9h0M388.4 339.9h0M390.0 339.4h0M389.5 348.1h0M395.4 337.8h0M397.0 339.9h0M398.2 339.9h0M397.7 335.0h0M397.9 325.3h0M398.2 327.7h0M402.6 338.8h0M403.9 337.8h0M403.6 332.9h0M405.2 330.1h0M405.2 321.5h0M407.1 342.7h0M410.1 329.0h0M412.8 327.7h0M413.7 332.6h0M414.0 324.8h0M415.0 323.6h0M416.9 322.8h0M417.7 320.4h0M416.1 320.4h0M419.8 328.0h0M421.0 320.4h0M421.0 311.7h0M421.0 314.7h0M425.1 304.6h0M425.9 311.4h0M427.5 310.6h0M428.3 308.1h0M420.7 311.7h0M421.4 313.7h0M425.5 304.5h0M427.5 307.6h0M428.2 309.0h0M429.5 309.6h0M434.3 305.6h0M438.4 304.9h0M439.1 309.6h0M433.6 321.2h0M428.2 319.9h0M444.6 302.1h0M445.2 306.2h0M443.9 311.7h0M448.0 304.2h0M448.6 309.6h0M450.0 311.7h0M456.2 304.9h0M456.8 308.3h0M460.2 301.5h0M469.8 304.9h0M471.2 294.6h0M380.4 371.2h0M427.9 319.6h0M433.6 321.7h0M420.6 311.9h0M421.0 314.3h0M425.1 311.9h0M427.5 307.8h0M427.8 310.3h0M430.4 309.2h0M425.1 304.6h0M434.4 305.4h0M438.5 304.6h0M438.5 309.9h0M438.1 313.1h0M439.3 337.6h0M461.6 292.9h0M462.9 294.8h0M464.0 291.6h0M465.2 292.0h0M466.6 293.8h0M467.5 291.1h0M468.4 292.9h0M470.3 293.8h0M471.7 294.8h0M463.4 297.1h0M457.9 295.7h0M445.0 302.1h0M445.0 305.8h0M447.8 304.4h0M448.7 309.4h0M456.1 307.6h0M457.9 304.9h0M460.4 301.2h0M469.8 304.9h0M430.8 312.6h0M430.1 314.5h0M430.7 312.9h0M433.5 313.3h0M433.9 311.7h0M430.3 313.3h0M431.9 314.3h0M430.4 314.1h0M433.4 312.7h0M433.8 312.9h0M436.3 310.9h0M433.4 313.1h0M436.5 311.3h0M434.3 312.1h0M435.6 310.2h0M428.8 313.5h0M433.6 312.6h0M437.1 311.2h0M435.1 312.4h0M431.2 314.3h0M468.9 293.3h0M471.8 290.1h0M469.7 292.7h0M467.8 292.8h0M467.8 293.8h0M462.6 294.0h0M464.4 294.0h0M470.2 290.9h0M460.2 295.7h0M465.5 295.2h0M469.9 290.0h0M461.8 296.8h0M459.2 296.3h0M461.9 296.1h0M461.3 295.5h0M472.0 291.1h0M468.4 291.2h0M467.8 293.6h0M471.8 289.7h0M459.0 295.8h0M458.9 296.3h0M462.0 293.7h0M424.2 318.3h0M424.8 318.2h0M424.9 317.0h0M425.7 319.8h0M426.0 318.5h0M426.1 317.9h0M427.1 317.6h0M427.4 317.5h0M428.4 316.4h0M428.2 315.6h0M429.0 316.9h0M429.1 315.8h0M429.5 316.5h0M430.5 315.1h0M431.2 314.4h0M431.3 314.6h0M431.8 314.3h0M432.9 314.3h0M433.0 312.8h0M433.8 313.0h0M433.8 313.8h0M434.5 312.7h0M434.9 311.9h0M435.7 312.4h0M436.4 311.2h0M436.7 312.4h0M437.3 311.3h0M437.6 311.3h0M452.3 301.9h0M452.7 301.2h0M452.8 300.8h0M454.0 300.0h0M454.2 300.4h0M454.5 299.8h0M455.5 299.8h0M456.1 299.6h0M456.6 298.8h0M456.7 299.1h0M457.6 298.0h0M458.0 299.4h0M458.5 297.9h0M459.5 297.9h0M459.4 297.2h0M460.1 297.1h0M461.1 296.4h0M462.0 295.6h0M461.7 296.5h0M462.7 295.8h0M462.9 295.3h0M463.7 294.7h0M464.2 295.3h0M465.1 293.1h0M465.3 294.1h0M465.7 294.0h0M466.6 293.0h0M466.9 293.6h0M467.6 292.1h0M468.1 293.1h0M468.4 291.5h0M469.5 291.3h0M470.3 291.3h0M470.5 291.7h0M471.2 290.8h0M471.7 290.5h0M472.3 290.1h0M472.8 289.6h0M473.6 290.1h0M473.8 289.4h0M474.5 288.9h0M475.1 288.6h0M475.6 288.0h0M476.4 287.5h0M476.5 287.3h0" stroke="#2a99da" stroke-width="2.0" stroke-linecap="round" fill="none"/>
<text class="cap" x="371.2" y="407.1" textLength="43.1" lengthAdjust="spacingAndGlyphs">(<tspan font-weight="bold">f</tspan>) KNN</text>
<rect x="3.9" y="418.9" width="213.4" height="105.7" fill="#efefef"/>
<path d="M37.9 419.4V513.2M71.8 419.4V513.2M105.7 419.4V513.2M139.5 419.4V513.2M173.4 419.4V513.2M207.3 419.4V513.2M16.2 509.1H216.5M16.2 488.4H216.5M16.2 467.7H216.5M16.2 447.0H216.5M16.2 426.3H216.5" stroke="#dddddd" stroke-width="0.6" fill="none"/>
<g class="tk"><text x="37.9" y="518.2" text-anchor="middle">60</text><text x="71.8" y="518.2" text-anchor="middle">65</text><text x="105.7" y="518.2" text-anchor="middle">70</text><text x="139.5" y="518.2" text-anchor="middle">75</text><text x="173.4" y="518.2" text-anchor="middle">80</text><text x="207.3" y="518.2" text-anchor="middle">85</text><text x="14.8" y="510.6" text-anchor="end">65</text><text x="14.8" y="489.9" text-anchor="end">70</text><text x="14.8" y="469.2" text-anchor="end">75</text><text x="14.8" y="448.5" text-anchor="end">80</text><text x="14.8" y="427.8" text-anchor="end">85</text></g>
<text class="al" x="116.3" y="522.6" text-anchor="middle">Actual Values</text>
<text class="al" transform="translate(8.0 467.2) rotate(-90)" text-anchor="middle">Predicted Values</text>
<polygon points="200.0,425.5 206.5,424.5 207.0,431.0 203.5,433.3 199.8,432.0" fill="#2a99da"/>
<path d="M25.0 509.7h0M40.8 509.7h0M64.6 509.7h0M77.1 484.4h0M77.1 507.6h0M78.4 509.7h0M80.8 508.6h0M82.0 504.3h0M82.8 498.8h0M91.9 485.6h0M92.6 490.1h0M95.5 492.1h0M91.9 509.7h0M92.1 485.5h0M92.9 490.4h0M95.3 492.0h0M97.0 491.7h0M98.6 493.7h0M98.1 500.2h0M102.3 499.8h0M101.0 485.8h0M102.7 488.4h0M104.6 488.0h0M106.7 492.0h0M107.9 494.5h0M110.0 493.3h0M110.0 480.9h0M111.6 486.8h0M119.0 484.2h0M119.8 485.8h0M120.6 471.7h0M125.8 484.7h0M127.1 487.1h0M128.4 486.3h0M128.4 468.9h0M128.7 471.7h0M128.4 477.0h0M128.7 475.7h0M133.3 479.8h0M133.9 475.7h0M135.6 471.7h0M135.6 474.4h0M134.9 484.7h0M137.7 490.4h0M140.5 471.7h0M143.4 466.8h0M144.2 468.9h0M145.0 470.0h0M144.2 473.3h0M146.7 462.7h0M147.0 466.0h0M148.0 472.8h0M148.6 468.4h0M149.9 486.8h0M148.0 452.6h0M151.2 452.1h0M151.2 455.9h0M151.5 459.4h0M152.4 461.1h0M155.6 447.2h0M154.8 461.1h0M157.2 459.4h0M158.1 462.7h0M157.2 465.1h0M163.8 475.4h0M155.5 457.1h0M156.9 459.9h0M157.6 461.9h0M158.3 464.7h0M156.2 463.3h0M154.8 460.6h0M161.8 458.5h0M163.2 456.4h0M167.3 456.4h0M168.7 457.1h0M151.4 452.2h0M150.7 456.4h0M151.4 459.2h0M155.5 447.4h0M169.4 447.4h0M175.6 440.5h0M178.4 441.2h0M175.6 450.2h0M174.9 457.1h0M179.1 452.2h0M180.5 457.8h0M179.1 463.0h0M183.0 444.6h0M186.7 447.4h0M187.1 449.5h0M186.7 458.5h0M184.6 430.1h0M184.6 432.2h0M186.7 435.6h0M186.3 437.0h0M188.8 429.4h0M187.4 441.2h0M188.1 443.2h0M190.9 434.2h0M191.6 437.0h0M192.9 433.5h0M193.6 432.2h0M194.3 439.8h0M197.1 441.9h0M198.5 439.8h0M195.7 437.0h0M194.3 444.6h0M200.6 447.4h0M201.9 438.4h0M202.4 440.5h0M205.4 436.7h0M111.1 509.7h0M169.4 483.5h0M162.5 451.8h0M166.9 449.5h0M160.0 453.1h0M162.4 449.9h0M161.2 449.6h0M157.9 452.5h0M168.1 453.0h0M164.5 449.7h0M161.6 447.9h0M165.8 449.3h0M159.6 455.8h0M160.3 455.8h0M164.2 453.7h0M164.4 448.2h0M165.6 449.0h0M161.2 447.7h0M156.3 450.0h0M155.7 450.2h0M161.5 447.5h0M158.6 452.4h0M162.4 450.5h0M161.1 447.8h0M161.0 447.5h0M165.2 452.7h0M164.4 450.4h0M169.0 450.0h0M158.4 450.0h0M168.4 448.0h0M166.3 455.4h0M167.5 450.9h0M161.8 454.8h0M165.5 454.2h0M158.0 452.3h0M165.9 448.8h0M158.4 454.5h0M163.5 450.4h0M162.4 448.9h0M161.2 447.9h0M163.8 447.4h0M163.9 448.0h0M160.7 447.7h0M162.5 447.2h0M159.4 448.7h0M162.1 455.3h0M163.7 453.9h0M165.7 451.5h0M157.4 451.4h0M160.3 455.3h0M158.3 447.8h0M164.5 452.3h0M156.2 449.8h0M161.8 454.3h0M166.5 454.8h0M163.1 455.4h0M162.1 449.2h0M161.7 450.8h0M166.2 451.6h0M158.2 452.7h0M158.0 450.5h0M158.0 452.2h0M165.6 452.2h0M159.5 453.1h0M165.8 451.0h0M160.0 452.4h0M166.8 453.4h0M165.9 452.6h0M159.5 452.2h0M161.5 452.3h0M162.1 450.5h0M166.1 449.8h0M160.6 451.0h0M166.8 450.1h0M163.0 453.6h0M163.3 453.5h0M161.2 451.4h0M160.9 451.1h0M160.7 449.9h0M167.0 452.7h0M163.9 451.8h0M159.3 450.5h0M166.8 453.1h0M161.8 452.7h0M166.7 449.8h0M160.9 451.3h0M160.6 451.9h0M206.0 425.9h0M206.7 426.6h0M198.5 433.9h0M196.8 429.6h0M193.6 434.6h0M207.0 425.9h0M193.0 429.2h0M199.4 432.5h0M196.6 430.5h0M192.3 430.0h0M200.1 430.8h0M206.2 427.4h0M196.6 429.1h0M206.3 427.4h0M195.7 428.7h0M202.2 427.1h0M193.8 432.0h0M200.3 430.4h0M192.6 428.0h0M204.7 428.1h0M200.2 433.9h0M196.6 428.4h0M202.6 427.8h0M198.7 428.0h0M204.3 429.7h0M201.4 425.3h0M201.8 426.4h0M199.6 427.8h0M201.6 425.5h0M197.6 431.2h0M200.2 433.2h0M195.2 428.1h0M194.8 431.8h0M193.7 432.9h0M191.6 428.4h0M203.7 429.3h0M202.0 424.8h0M195.6 430.6h0M203.9 432.0h0M200.9 425.1h0M198.9 434.6h0M199.3 426.8h0M206.2 427.8h0M199.5 425.8h0M205.0 431.5h0M199.6 429.4h0M196.5 429.1h0M202.5 432.3h0M202.5 427.8h0M193.3 431.7h0M206.9 427.9h0M200.6 430.0h0M200.0 430.6h0M205.4 431.6h0M203.3 432.3h0M203.0 431.5h0M203.3 424.6h0M193.7 431.2h0M197.9 426.5h0M201.5 426.2h0M203.3 427.5h0M205.8 427.5h0M206.6 427.6h0M203.7 425.5h0M199.2 427.9h0M205.0 431.8h0M200.2 425.2h0M199.5 426.6h0M192.6 431.7h0M204.7 424.5h0" stroke="#2a99da" stroke-width="2.0" stroke-linecap="round" fill="none"/>
<text class="cap" x="100.0" y="545.0" textLength="46.5" lengthAdjust="spacingAndGlyphs">(<tspan font-weight="bold">g</tspan>) ANN</text>
<rect x="273.0" y="418.9" width="213.7" height="105.7" fill="#efefef"/>
<path d="M307.5 419.4V513.2M341.2 419.4V513.2M375.0 419.4V513.2M408.8 419.4V513.2M442.5 419.4V513.2M476.2 419.4V513.2M285.3 502.8H485.9M285.3 483.5H485.9M285.3 464.2H485.9M285.3 444.9H485.9M285.3 425.6H485.9" stroke="#dddddd" stroke-width="0.6" fill="none"/>
<g class="tk"><text x="307.5" y="518.2" text-anchor="middle">60</text><text x="341.2" y="518.2" text-anchor="middle">65</text><text x="375.0" y="518.2" text-anchor="middle">70</text><text x="408.8" y="518.2" text-anchor="middle">75</text><text x="442.5" y="518.2" text-anchor="middle">80</text><text x="476.2" y="518.2" text-anchor="middle">85</text><text x="284.3" y="504.3" text-anchor="end">65</text><text x="284.3" y="485.0" text-anchor="end">70</text><text x="284.3" y="465.7" text-anchor="end">75</text><text x="284.3" y="446.4" text-anchor="end">80</text><text x="284.3" y="427.1" text-anchor="end">85</text></g>
<text class="al" x="385.6" y="522.6" text-anchor="middle">Actual Values</text>
<text class="al" transform="translate(277.8 467.2) rotate(-90)" text-anchor="middle">Predicted Values</text>
<polygon points="463.8,430.8 466.7,429.4 470.6,428.0 474.0,425.6 475.8,425.6 476.2,427.5 474.4,432.6 470.6,431.6 466.7,433.2 464.0,433.6" fill="#2a99da"/>
<path d="M294.3 509.7h0M309.9 494.2h0M333.9 504.0h0M346.6 485.6h0M346.6 498.8h0M350.2 498.8h0M347.7 503.7h0M351.5 487.7h0M352.6 493.9h0M361.6 472.7h0M362.4 479.9h0M361.3 493.9h0M364.5 483.6h0M361.5 472.8h0M362.3 479.8h0M361.2 494.0h0M365.1 483.9h0M367.2 483.6h0M367.7 488.0h0M368.0 488.8h0M370.5 472.8h0M371.8 477.0h0M374.6 477.0h0M371.8 494.0h0M375.9 481.4h0M377.0 488.8h0M379.4 477.7h0M379.8 481.4h0M380.7 474.4h0M388.9 477.7h0M389.5 470.8h0M390.0 462.4h0M395.4 468.4h0M397.7 467.9h0M398.2 471.2h0M397.0 474.9h0M398.2 474.4h0M397.7 456.2h0M402.6 477.4h0M403.1 470.8h0M404.2 468.4h0M404.7 460.3h0M405.2 461.9h0M407.1 479.8h0M410.1 457.8h0M412.8 458.6h0M414.0 459.1h0M416.1 458.6h0M413.7 464.7h0M416.1 464.0h0M417.7 464.0h0M413.3 470.0h0M416.9 453.7h0M417.7 455.4h0M420.2 453.7h0M421.0 455.4h0M421.0 457.8h0M419.8 474.6h0M420.5 447.7h0M425.1 443.1h0M424.2 456.2h0M426.7 452.9h0M434.0 462.7h0M420.7 447.6h0M420.7 451.7h0M421.1 457.9h0M425.5 443.3h0M434.7 445.6h0M433.6 462.7h0M438.4 437.4h0M438.4 442.9h0M439.1 444.2h0M445.2 438.1h0M444.6 445.6h0M445.2 444.9h0M448.0 440.8h0M449.3 448.3h0M448.6 452.4h0M452.5 436.1h0M454.1 432.0h0M456.2 434.0h0M457.5 438.1h0M456.8 438.8h0M457.5 444.2h0M456.2 449.7h0M463.7 436.7h0M469.8 443.6h0M474.6 437.4h0M380.5 509.3h0M454.7 432.9h0M456.0 433.8h0M457.5 432.6h0M459.0 434.4h0M460.7 433.6h0M458.0 435.3h0M439.6 484.9h0M428.6 452.4h0M427.8 447.7h0M425.0 447.7h0M424.6 453.2h0M429.1 454.6h0M434.3 449.4h0M426.5 449.4h0M424.7 452.8h0M426.8 447.2h0M436.0 450.4h0M433.1 448.3h0M426.2 448.3h0M434.0 451.2h0M428.9 449.9h0M425.2 448.3h0M428.2 450.2h0M430.8 451.8h0M435.5 448.8h0M425.6 448.9h0M427.2 451.9h0M430.6 449.1h0M425.6 453.9h0M432.5 452.5h0M433.6 455.1h0M424.8 447.6h0M430.5 453.4h0M431.0 451.2h0M428.4 448.2h0M430.9 450.7h0M426.0 452.2h0M427.1 452.5h0M428.0 450.7h0M435.7 449.0h0M431.4 449.1h0M430.7 455.2h0M430.8 456.3h0M429.7 450.6h0M432.8 451.1h0M433.2 448.8h0M424.5 450.2h0M425.1 448.3h0M432.2 453.2h0M436.3 453.1h0M431.6 449.4h0M430.6 448.7h0M425.7 451.5h0M432.6 448.9h0M434.1 451.4h0M428.4 455.0h0M424.6 448.5h0M430.8 450.5h0M433.4 450.2h0M433.7 450.4h0M433.0 448.7h0M429.2 449.0h0M435.5 447.6h0M431.5 450.0h0M433.3 450.1h0M436.2 453.0h0M433.5 448.7h0M436.3 452.5h0M432.5 452.2h0M436.4 453.1h0M430.3 448.8h0M435.7 449.1h0M430.8 447.8h0M435.3 448.9h0M429.8 451.1h0M429.0 452.1h0M429.0 453.2h0M429.4 448.3h0M432.5 452.0h0M432.7 451.7h0M430.4 452.6h0M430.1 449.9h0M435.7 449.8h0M428.7 451.7h0M429.0 449.9h0M431.4 450.4h0M429.5 453.0h0M463.6 430.9h0M470.4 428.6h0M473.2 431.8h0M472.7 428.3h0M468.0 431.3h0M472.5 427.1h0M474.2 429.4h0M473.7 425.7h0M474.8 431.3h0M467.6 429.9h0M465.2 434.4h0M475.6 430.6h0M464.7 434.5h0M468.6 428.6h0M474.8 426.3h0M463.1 431.6h0M476.1 427.2h0M473.9 429.9h0M476.3 425.6h0M467.0 428.5h0M474.4 427.5h0M475.2 426.3h0M464.0 434.9h0M462.7 431.3h0M465.5 430.7h0M467.1 431.2h0M472.3 432.4h0M464.3 433.3h0M466.0 430.9h0M474.2 432.7h0M470.2 429.9h0M464.7 433.8h0M471.1 432.7h0M466.9 429.7h0M474.9 431.6h0M464.9 430.1h0M468.4 433.1h0M474.6 428.4h0M470.7 428.5h0M463.0 432.4h0M471.4 428.1h0M463.0 431.0h0M472.8 431.3h0M467.1 428.4h0M462.7 433.0h0M468.1 431.9h0M463.5 432.7h0M473.1 430.4h0M466.0 431.9h0M464.1 433.2h0" stroke="#2a99da" stroke-width="2.0" stroke-linecap="round" fill="none"/>
<text class="cap" x="351.2" y="545.0" textLength="82.9" lengthAdjust="spacingAndGlyphs">(<tspan font-weight="bold">h</tspan>) RNN-LSTM</text>
</svg>
</body></html>
